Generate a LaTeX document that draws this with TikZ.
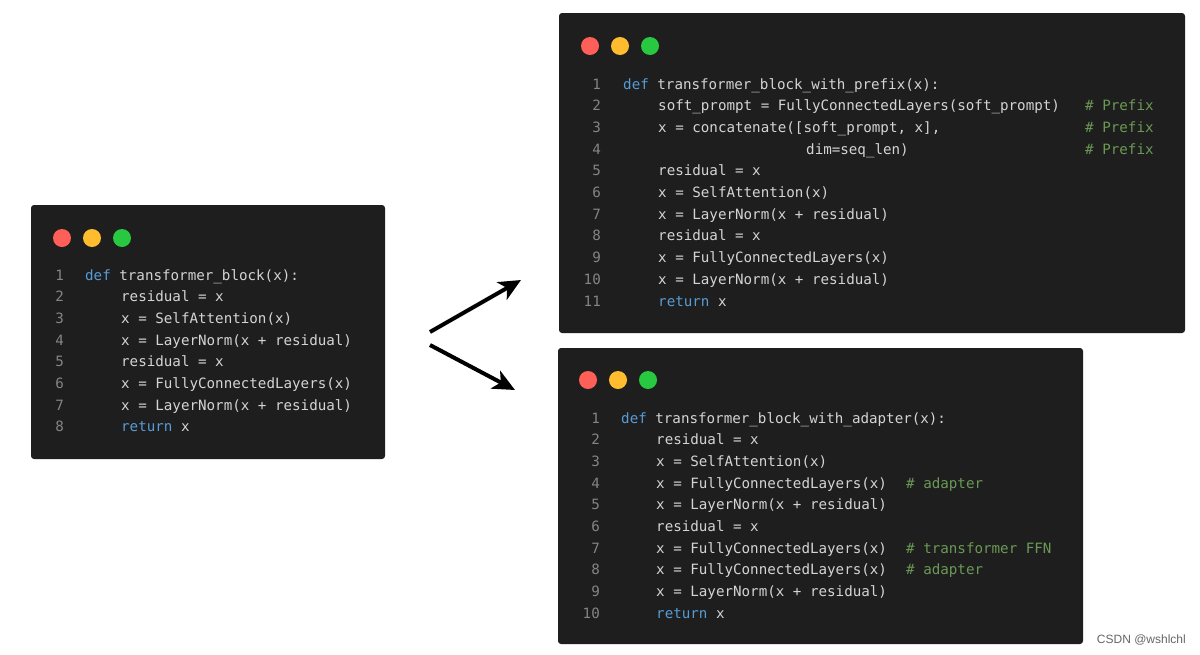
\documentclass[tikz,border=0pt]{standalone}
\usepackage{fontspec}
\setmonofont{DejaVu Sans Mono}
\setsansfont{Liberation Sans}
\usetikzlibrary{arrows.meta}
\definecolor{bg}{HTML}{1E1E1E}
\definecolor{tx}{HTML}{D4D4D4}
\definecolor{kw}{HTML}{569CD6}
\definecolor{cm}{HTML}{6A9955}
\definecolor{ln}{HTML}{858585}
\definecolor{dr}{HTML}{FE5F57}
\definecolor{dy}{HTML}{FEBC2E}
\definecolor{dg}{HTML}{28C840}
\tikzset{
 win/.style={fill=bg,rounded corners=3pt,draw=none},
 code/.style={inner sep=0,anchor=base west,text=tx,font=\ttfamily\fontsize{14.2}{16}\selectfont},
 lnum/.style={inner sep=0,anchor=base east,text=ln,font=\ttfamily\fontsize{14.2}{16}\selectfont},
 arr/.style={line width=4pt,-{Stealth[length=22pt,width=20pt,inset=6pt]}}
}
\newcommand{\K}[1]{\textcolor{kw}{#1}}
\newcommand{\C}[1]{\textcolor{cm}{#1}}
\begin{document}
\begin{tikzpicture}[x=1pt,y=-1pt]
\useasboundingbox[fill=white] (0,0) rectangle (1200,654);
\fill[win] (31,205) rectangle (385,459);
\fill[win] (559,13) rectangle (1185,333);
\fill[win] (558,348) rectangle (1083,644);
\foreach \bx/\by in {62/238,590/46,588/380}{
 \fill[dr] (\bx,\by) circle (9);
 \fill[dy] (\bx+30,\by) circle (9);
 \fill[dg] (\bx+60,\by) circle (9);
}
\def\lsp{21.7}
\foreach \n in {1,...,8}{\node[lnum] (la\n) at (64,280+\lsp*\n-\lsp) {\n};}
\node[code] (a1) at (85,280) {\K{def} transformer\_block(x):};
\node[code] (a2) at (121,301.7) {residual = x};
\node[code] (a3) at (121,323.4) {x = SelfAttention(x)};
\node[code] (a4) at (121,345.1) {x = LayerNorm(x + residual)};
\node[code] (a5) at (121,366.8) {residual = x};
\node[code] (a6) at (121,388.5) {x = FullyConnectedLayers(x)};
\node[code] (a7) at (121,410.2) {x = LayerNorm(x + residual)};
\node[code] (a8) at (121,431.9) {\K{return} x};
\foreach \n in {1,...,11}{\node[lnum] (lb\n) at (601,89+\lsp*\n-\lsp) {\n};}
\node[code] (b1) at (623,89) {\K{def} transformer\_block\_with\_prefix(x):};
\node[code] (b2) at (658,110.7) {soft\_prompt = FullyConnectedLayers(soft\_prompt)};
\node[code] (b3) at (658,132.4) {x = concatenate([soft\_prompt, x],};
\node[code] (b4) at (806,154.1) {dim=seq\_len)};
\node[code] (b5) at (658,175.8) {residual = x};
\node[code] (b6) at (658,197.5) {x = SelfAttention(x)};
\node[code] (b7) at (658,219.2) {x = LayerNorm(x + residual)};
\node[code] (b8) at (658,240.9) {residual = x};
\node[code] (b9) at (658,262.6) {x = FullyConnectedLayers(x)};
\node[code] (b10) at (658,284.3) {x = LayerNorm(x + residual)};
\node[code] (b11) at (658,306) {\K{return} x};
\node[code] (bc2) at (1085,110.7) {\C{\# Prefix}};
\node[code] (bc3) at (1085,132.4) {\C{\# Prefix}};
\node[code] (bc4) at (1085,154.1) {\C{\# Prefix}};
\foreach \n in {1,...,10}{\node[lnum] (lc\n) at (600,423+\lsp*\n-\lsp) {\n};}
\node[code] (c1) at (621,423) {\K{def} transformer\_block\_with\_adapter(x):};
\node[code] (c2) at (656,444.7) {residual = x};
\node[code] (c3) at (656,466.4) {x = SelfAttention(x)};
\node[code] (c4) at (656,488.1) {x = FullyConnectedLayers(x)};
\node[code] (c5) at (656,509.8) {x = LayerNorm(x + residual)};
\node[code] (c6) at (656,531.5) {residual = x};
\node[code] (c7) at (656,553.2) {x = FullyConnectedLayers(x)};
\node[code] (c8) at (656,574.9) {x = FullyConnectedLayers(x)};
\node[code] (c9) at (656,596.6) {x = LayerNorm(x + residual)};
\node[code] (c10) at (656,618.3) {\K{return} x};
\node[code] (cc4) at (906,488.1) {\C{\# adapter}};
\node[code] (cc7) at (906,553.2) {\C{\# transformer FFN}};
\node[code] (cc8) at (906,574.9) {\C{\# adapter}};
\coordinate (o1) at (430,332); \coordinate (t1) at (521,280);
\coordinate (o2) at (430,345); \coordinate (t2) at (515,390);
\draw[arr] (o1) -- (t1);
\draw[arr] (o2) -- (t2);
\node[inner sep=0,anchor=base east,text=black!60,font=\sffamily\fontsize{12}{13}\selectfont] (wm) at (1186,643) {CSDN @wshlchl};
\end{tikzpicture}
\end{document}
